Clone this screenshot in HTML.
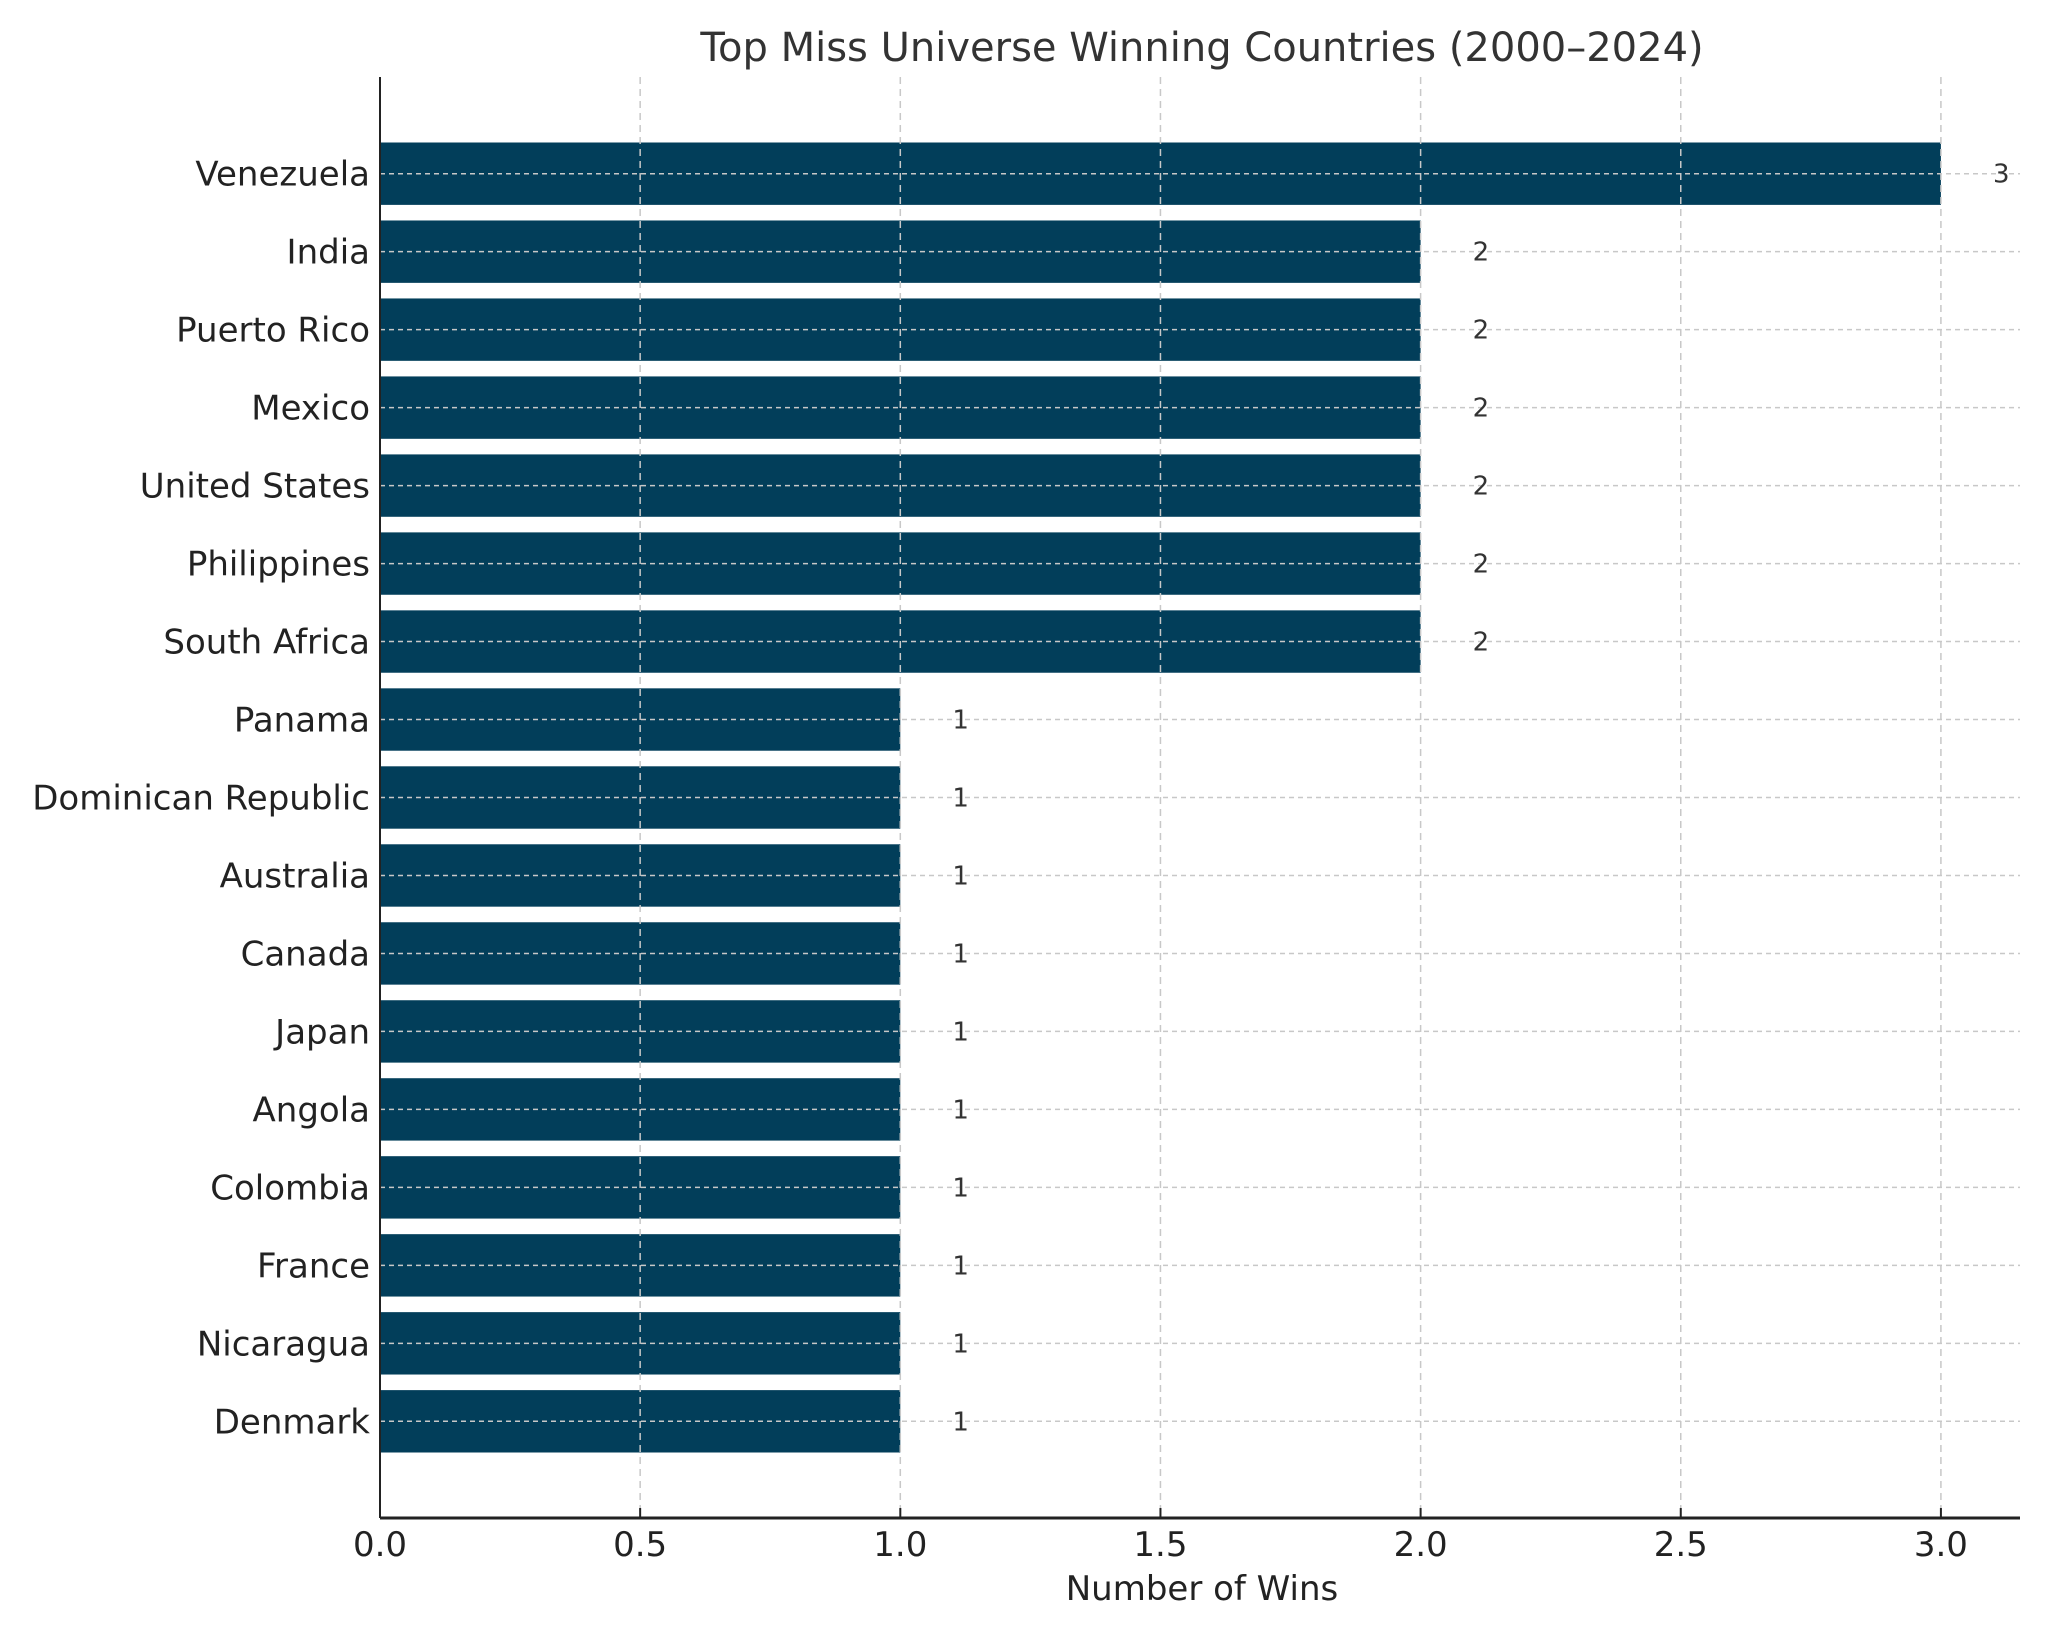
<!DOCTYPE html>
<html><head><meta charset="utf-8"><style>
html,body{margin:0;padding:0;background:#fff;}
svg text{font-family:"DejaVu Sans","Liberation Sans",sans-serif;}
</style></head><body>
<svg id="chart" width="2048" height="1638" viewBox="0 0 2048 1638" xmlns="http://www.w3.org/2000/svg">
<rect width="2048" height="1638" fill="#fff"/>
<text x="1202" y="61" text-anchor="middle" font-size="40" fill="#333">Top Miss Universe Winning Countries (2000–2024)</text>
<g id="grid"></g><g id="bars"></g><g id="overlay"></g>
<text x="1202" y="1600" text-anchor="middle" font-size="34" fill="#222">Number of Wins</text>
</svg>
<script>
const categories = ["Venezuela","India","Puerto Rico","Mexico","United States","Philippines","South Africa","Panama","Dominican Republic","Australia","Canada","Japan","Angola","Colombia","France","Nicaragua","Denmark"];
const wins = [3,2,2,2,2,2,2,1,1,1,1,1,1,1,1,1,1];
const xTicks = [0,0.5,1.0,1.5,2.0,2.5,3.0];
const xTickLabels = ["0.0","0.5","1.0","1.5","2.0","2.5","3.0"];

const NS="http://www.w3.org/2000/svg";
const L=380,R=2020,T=77,B=1518;
const xMax=3.152;
const x=v=>L+v*(R-L)/xMax;
const n=categories.length;
const yMin=-0.4-0.05*(n-1+0.8), ySpan=(n-1+0.8)*1.1;
const y=i=>T+(i-yMin)*(B-T)/ySpan;
const bandH=(B-T)/ySpan;
function mk(tag,attrs,parent){const e=document.createElementNS(NS,tag);for(const k in attrs)e.setAttribute(k,attrs[k]);document.getElementById(parent).appendChild(e);return e;}
categories.forEach((c,i)=>{
  const r=mk('rect',{x:L,y:y(i)-bandH*0.4,width:x(wins[i])-L,height:bandH*0.8,fill:'#023e5a'},'bars');
  
  
});
xTicks.forEach((t,i)=>{
  if(t===0)return;
  const g=mk('line',{x1:x(t),x2:x(t),y1:T,y2:B,stroke:'#c8c8c8','stroke-width':1.5,'stroke-dasharray':'7,5'},'overlay');
  
  
});
categories.forEach((c,i)=>{
  const g=mk('line',{x1:L,x2:R,y1:y(i),y2:y(i),stroke:'#c8c8c8','stroke-width':1.5,'stroke-dasharray':'5,4'},'overlay');
  
  
  const lab=mk('text',{x:L-10,y:y(i)+12,'text-anchor':'end','font-size':34,fill:'#222'},'overlay');
  lab.textContent=c;
  
  
  const v=mk('text',{x:x(wins[i]+0.1),y:y(i)+9,'font-size':26,fill:'#333'},'overlay');
  v.textContent=wins[i];
  
  
});
const ls=mk('line',{x1:L,x2:L,y1:T,y2:B,stroke:'#222','stroke-width':2},'overlay');


const bs=mk('line',{x1:L,x2:R,y1:B,y2:B,stroke:'#222','stroke-width':3},'overlay');


xTicks.forEach((t,i)=>{
  const tk=mk('line',{x1:x(t),x2:x(t),y1:B,y2:B-10,stroke:'#222','stroke-width':2},'overlay');
  
  
  const tl=mk('text',{x:x(t),y:B+38,'text-anchor':'middle','font-size':34,fill:'#222'},'overlay');
  tl.textContent=xTickLabels[i];
  
  
});
</script>
</body></html>
